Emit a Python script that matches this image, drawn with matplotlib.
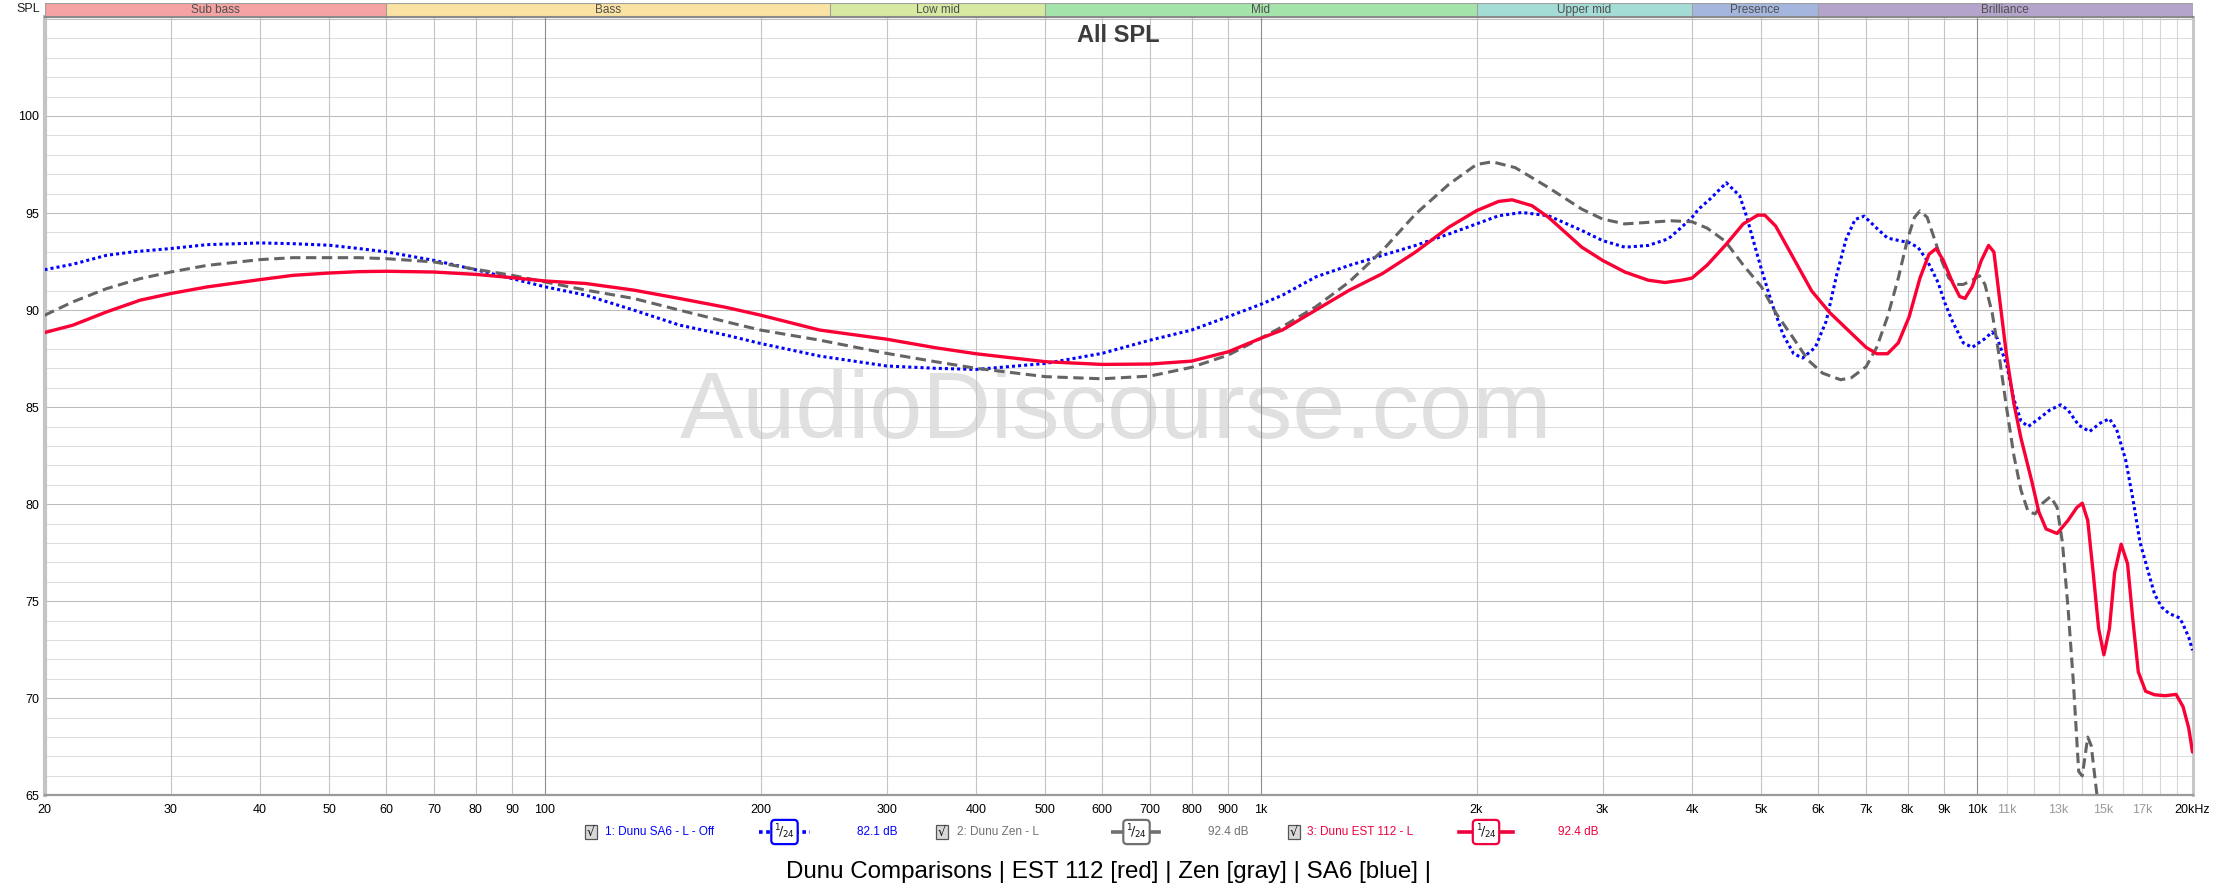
import matplotlib
matplotlib.use('Agg')
import matplotlib.pyplot as plt
from matplotlib.ticker import NullLocator
from matplotlib.patches import Rectangle
from matplotlib.lines import Line2D

plt.rcParams['font.family'] = ['Liberation Sans', 'DejaVu Sans']

# ---------------- data ----------------
sa6_freq = [20, 21.9, 24.4, 26.6, 30, 33.7, 40, 44.5, 50, 55, 60, 70, 80, 90, 100, 114, 133, 154, 179, 200,
            242, 300, 351, 400, 500, 600, 700, 800, 900, 1000, 1072, 1193, 1328, 1478, 1644, 1830, 2000, 2148,
            2315, 2521, 2806, 3000, 3223, 3474, 3706, 3868, 4000, 4085, 4247, 4466, 4662, 4771, 4883, 5000,
            5174, 5358, 5546, 5709, 5946, 6157, 6375, 6565, 6758, 6956, 7244, 7500, 7856, 8040, 8278, 8521,
            8822, 9030, 9242, 9569, 9850, 10260, 10500, 10680, 11000, 11260, 11520, 11790, 12200, 12640,
            13090, 13400, 13870, 14360, 14870, 15310, 15670, 16130, 16510, 16890, 17290, 17700, 18110,
            18540, 19190, 19400, 19760, 20000]
sa6_spl = [92.08, 92.36, 92.82, 93.0, 93.17, 93.37, 93.46, 93.42, 93.34, 93.17, 93.0, 92.56, 92.08, 91.62,
           91.2, 90.77, 90.0, 89.23, 88.71, 88.28, 87.63, 87.12, 87.0, 86.94, 87.25, 87.77, 88.45, 88.97,
           89.66, 90.3, 90.77, 91.71, 92.3, 92.82, 93.33, 93.92, 94.44, 94.86, 95.03, 94.86, 94.1, 93.58,
           93.24, 93.33, 93.67, 94.27, 94.78, 95.2, 95.75, 96.56, 95.89, 94.78, 93.44, 92.1, 90.32, 88.75,
           87.75, 87.53, 88.08, 89.42, 91.88, 93.66, 94.67, 94.84, 94.22, 93.71, 93.55, 93.48, 93.22,
           92.55, 91.43, 90.32, 89.42, 88.31, 88.08, 88.53, 88.87, 88.53, 87.19, 85.41, 84.29, 84.0,
           84.4, 84.85, 85.12, 84.85, 84.07, 83.74, 84.18, 84.4, 83.85, 82.29, 80.28, 78.05, 76.71,
           75.37, 74.7, 74.37, 74.14, 73.81, 73.14, 72.47]

zen_freq = [20, 21.9, 24.4, 27.2, 30, 33.7, 40, 44.5, 50, 55, 60, 70, 80, 90, 100, 114, 133, 154, 179, 200,
            242, 300, 351, 400, 500, 600, 700, 800, 900, 1000, 1072, 1193, 1328, 1478, 1644, 1830, 2000, 2104,
            2265, 2521, 2806, 3000, 3223, 3474, 3740, 4000, 4200, 4450, 4716, 5000, 5234, 5546, 5810, 6087,
            6450, 6680, 7000, 7244, 7500, 7765, 8000, 8180, 8325, 8520, 8723, 8926, 9135, 9350, 9569, 9850,
            10080, 10260, 10500, 10740, 11000, 11260, 11520, 11790, 12060, 12350, 12670, 12940, 13160,
            13400, 13630, 13870, 14030, 14280, 14440, 14700, 14800]
zen_spl = [89.73, 90.42, 91.1, 91.62, 91.96, 92.3, 92.6, 92.7, 92.7, 92.7, 92.65, 92.48, 92.1, 91.79, 91.45,
           91.03, 90.6, 90.0, 89.4, 88.97, 88.45, 87.77, 87.34, 87.0, 86.57, 86.46, 86.6, 87.05, 87.68, 88.55,
           89.15, 90.17, 91.45, 93.07, 94.95, 96.48, 97.5, 97.64, 97.34, 96.31, 95.2, 94.69, 94.44, 94.52,
           94.6, 94.55, 94.22, 93.55, 92.32, 91.2, 89.87, 88.53, 87.42, 86.75, 86.41, 86.52, 87.08, 88.08,
           89.65, 91.65, 93.66, 94.78, 95.11, 94.78, 93.66, 92.55, 91.65, 91.32, 91.32, 91.54, 91.77,
           91.32, 89.87, 87.64, 84.96, 82.51, 80.72, 79.61, 79.5, 80.05, 80.39, 79.83, 78.05, 74.7, 70.91,
           66.23, 66.0, 68.0, 67.56, 65.1, 63.5]

est_freq = [20, 21.9, 24.4, 27.2, 30, 33.7, 40, 44.5, 50, 55, 60, 70, 80, 90, 100, 114, 133, 154, 179, 200,
            242, 300, 351, 400, 500, 600, 700, 800, 900, 1000, 1072, 1193, 1328, 1478, 1644, 1830, 2000, 2148,
            2243, 2390, 2521, 2806, 3000, 3223, 3474, 3666, 3870, 4000, 4200, 4450, 4716, 4940, 5055, 5234,
            5546, 5878, 6228, 6600, 7000, 7244, 7500, 7765, 8040, 8325, 8571, 8771, 8978, 9242, 9458, 9624,
            9850, 10140, 10380, 10560, 10740, 11000, 11260, 11520, 11930, 12200, 12490, 12940, 13400, 13790,
            14030, 14280, 14530, 14790, 15040, 15310, 15570, 15900, 16230, 16510, 16800, 17200, 17700,
            18320, 18970, 19400, 19760, 20000]
est_spl = [88.84, 89.22, 89.9, 90.51, 90.85, 91.19, 91.57, 91.79, 91.91, 91.98, 92.0, 91.96, 91.84, 91.67,
           91.5, 91.37, 91.03, 90.6, 90.14, 89.74, 88.97, 88.5, 88.06, 87.75, 87.34, 87.2, 87.22, 87.37,
           87.85, 88.55, 88.98, 90.0, 91.02, 91.88, 92.99, 94.27, 95.12, 95.6, 95.68, 95.38, 94.78, 93.24,
           92.56, 91.96, 91.54, 91.42, 91.54, 91.65, 92.32, 93.33, 94.44, 94.89, 94.89, 94.33, 92.66,
           90.98, 89.87, 88.98, 88.08, 87.75, 87.75, 88.31, 89.65, 91.65, 92.88, 93.17, 92.55, 91.43,
           90.7, 90.6, 91.21, 92.55, 93.33, 92.99, 90.76, 87.64, 85.19, 83.4, 81.17, 79.61, 78.72, 78.49,
           79.16, 79.83, 80.05, 79.16, 76.48, 73.58, 72.24, 73.58, 76.48, 77.94, 76.93, 74.03, 71.36,
           70.36, 70.18, 70.13, 70.2, 69.57, 68.46, 67.23]

band_names = ['Sub bass', 'Bass', 'Low mid', 'Mid', 'Upper mid', 'Presence', 'Brilliance']
band_edges = [20, 60, 250, 500, 2000, 4000, 6000, 20000]
band_colors = ['#f5a3a3', '#f9e2a2', '#d6eaa2', '#a4e4ab', '#a4dcd6', '#a4b6de', '#b4a4cc']

xtick_freqs = [20, 30, 40, 50, 60, 70, 80, 90, 100, 200, 300, 400, 500, 600, 700, 800, 900, 1000, 2000,
               3000, 4000, 5000, 6000, 7000, 8000, 9000, 10000, 11000, 13000, 15000, 17000, 20000]
xtick_labels = ['20', '30', '40', '50', '60', '70', '80', '90', '100', '200', '300', '400', '500', '600',
                '700', '800', '900', '1k', '2k', '3k', '4k', '5k', '6k', '7k', '8k', '9k', '10k', '11k',
                '13k', '15k', '17k', '20kHz']
xtick_gray = ['11k', '13k', '15k', '17k']
ytick_vals = [65, 70, 75, 80, 85, 90, 95, 100]

legend_names = ['1: Dunu SA6 - L - Off', '2: Dunu Zen - L', '3: Dunu EST 112 - L']
legend_levels = ['82.1 dB', '92.4 dB', '92.4 dB']
caption = 'Dunu Comparisons | EST 112 [red] | Zen [gray] | SA6 [blue] |'

# ---------------- figure ----------------
W, H = 2215, 890
fig = plt.figure(figsize=(W / 100, H / 100), dpi=100)
fig.patch.set_facecolor('white')


def fx(px):
    return px / W


def fy(py):
    return 1 - py / H


X0, X1, YT, YB = 44.5, 2192.5, 17, 795.3
ax = fig.add_axes([fx(X0), fy(YB), (X1 - X0) / W, (YB - YT) / H])
ax.set_xscale('log')
ax.set_xlim(20, 20000)
ax.set_ylim(65, 105.1)
ax.xaxis.set_minor_locator(NullLocator())
ax.yaxis.set_minor_locator(NullLocator())

# grid
for v in range(66, 106):
    ax.axhline(v, color='#bcbcbc' if v % 5 == 0 else '#dddddd', lw=0.75, zorder=1)
grid_f = list(range(30, 100, 10)) + list(range(100, 1000, 100)) + list(range(1000, 10000, 1000)) + \
    list(range(10000, 20001, 1000))
for f in grid_f:
    if f in (100, 1000, 10000):
        c = '#8e8e8e'
    elif f > 10000:
        c = '#d6d6d6'
    else:
        c = '#c4c4c4'
    ax.axvline(f, color=c, lw=0.8, zorder=1)

# watermark
ax.text(627, 83.4, 'AudioDiscourse.com', fontsize=68.5, color='#e0e0e0', ha='center', va='baseline',
        zorder=0.5)

# curves
ax.plot(sa6_freq, sa6_spl, color='#0000ff', lw=2.2, linestyle=(0, (1, 1)), dash_capstyle='butt', zorder=3)
ax.plot(zen_freq, zen_spl, color='#646464', lw=2.2, linestyle=(0, (3.4, 1.8)), dash_capstyle='butt',
        zorder=4)
ax.plot(est_freq, est_spl, color='#fa0034', lw=2.4, solid_capstyle='round', solid_joinstyle='round',
        zorder=5)

# ticks
ax.set_xticks(xtick_freqs)
ax.set_xticklabels(xtick_labels)
for t in ax.get_xticklabels():
    if t.get_text() in xtick_gray:
        t.set_color('#999999')
ax.set_yticks(ytick_vals)
ax.set_yticklabels([str(v) for v in ytick_vals])
ax.tick_params(axis='x', length=0, pad=6, labelsize=9)
ax.tick_params(axis='y', length=0, pad=4, labelsize=9)

# spines
ax.spines['top'].set_color('#8a8a8a')
ax.spines['top'].set_linewidth(1.6)
ax.spines['left'].set_color('#c4c4c4')
ax.spines['left'].set_linewidth(3.0)
ax.spines['right'].set_color('#c8c8c8')
ax.spines['right'].set_linewidth(2.2)
ax.spines['bottom'].set_color('#9a9a9a')
ax.spines['bottom'].set_linewidth(1.6)

# band strip
bax = fig.add_axes([fx(X0), fy(16), (X1 - X0) / W, 13 / H])
bax.set_xscale('log')
bax.set_xlim(20, 20000)
bax.set_ylim(0, 1)
bax.axis('off')
for i, name in enumerate(band_names):
    lo, hi = band_edges[i], band_edges[i + 1]
    bax.axvspan(lo, hi, color=band_colors[i], lw=0)
    bax.axvline(hi, color='#a0a0a0', lw=0.8)
    bax.text((lo * hi) ** 0.5, 0.45, name, ha='center', va='center', fontsize=8.5, color='#505050')
bax.add_patch(Rectangle((0, 0), 1, 1, transform=bax.transAxes, fill=False, ec='#a0a0a0', lw=0.8))

fig.text(fx(40), fy(9), 'SPL', ha='right', va='center', fontsize=9, color='#202020')

# title
fig.text(0.5 * (fx(X0) + fx(X1)), fy(42), 'All SPL', ha='center', va='baseline', fontsize=17,
         fontweight='bold', color='#3c3c3c')

# legend row
LY = fy(832)
leg_colors = ['#0000ff', '#707070', '#f0003c']
leg_styles = [(0, (1, 1)), (0, (3.4, 1.8)), '-']
cb_x = [585, 936, 1288]
name_x = [605, 957, 1307]
icon_x = [(759, 810), (1111, 1162), (1459, 1513)]
lvl_x = [857, 1208, 1558]
for i in range(3):
    fig.patches.append(Rectangle((fx(cb_x[i]), fy(839)), 12 / W, 14 / H, transform=fig.transFigure,
                                 fc='#d8d8d8', ec='#555555', lw=0.9))
    fig.text(fx(cb_x[i] + 6), fy(832.5), '√', ha='center', va='center', fontsize=9, color='#111111',
             family=['DejaVu Sans'])
    fig.text(fx(name_x[i]), LY, legend_names[i], ha='left', va='center', fontsize=8.5, color=leg_colors[i])
    a, b = icon_x[i]
    fig.lines.append(Line2D([fx(a), fx(b)], [LY, LY], transform=fig.transFigure, color=leg_colors[i],
                            lw=2.6, linestyle=leg_styles[i], dash_capstyle='butt'))
    fig.text(fx((a + b) / 2), LY, r'$^{1}\!/_{24}$', ha='center', va='center', fontsize=9, color='#111111',
             bbox=dict(boxstyle='round,pad=0.22,rounding_size=0.3', fc='white', ec=leg_colors[i], lw=1.6))
    fig.text(fx(lvl_x[i]), LY, legend_levels[i], ha='left', va='center', fontsize=8.5, color=leg_colors[i])

# caption
fig.text(fx(1108), fy(872), caption, ha='center', va='center', fontsize=17.4, color='#000000')

fig.savefig('out.png', dpi=100, facecolor='white')
